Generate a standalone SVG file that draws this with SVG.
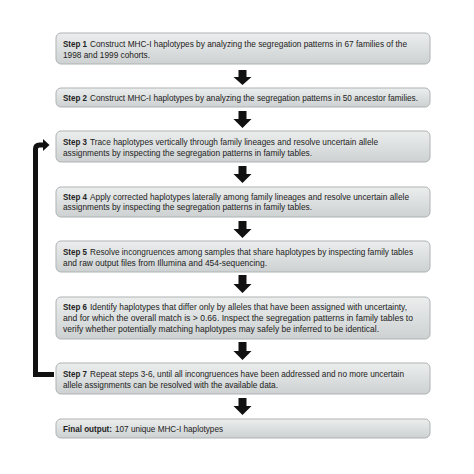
<svg xmlns="http://www.w3.org/2000/svg" width="474" height="474" viewBox="0 0 474 474">
<defs>
<linearGradient id="g" x1="0" y1="0" x2="0" y2="1">
<stop offset="0" stop-color="#eceeee"/>
<stop offset="1" stop-color="#cdd1d1"/>
</linearGradient>
<style>
.box{fill:url(#g);stroke:#aeb3b3;stroke-width:1}
text{font-family:"Liberation Sans",Arial,sans-serif;font-size:9.5px;fill:#222}
.b{font-weight:bold}
.arr{fill:#111}
</style>
</defs>
<rect width="474" height="474" fill="#fff"/>
<g id="connectors">
<path class="arr" d="M238.5 70H246.5V77H251.5L242.5 85L233.5 77H238.5Z"/>
<path class="arr" d="M238.5 111H246.5V119H251.5L242.5 128L233.5 119H238.5Z"/>
<path class="arr" d="M238.5 166H246.5V174H251.5L242.5 183L233.5 174H238.5Z"/>
<path class="arr" d="M238.5 221H246.5V229H251.5L242.5 238L233.5 229H238.5Z"/>
<path class="arr" d="M238.5 275H246.5V284H251.5L242.5 293L233.5 284H238.5Z"/>
<path class="arr" d="M238.5 342H246.5V351H251.5L242.5 360L233.5 351H238.5Z"/>
<path class="arr" d="M238.5 398H246.5V406H251.5L242.5 415L233.5 406H238.5Z"/>
<path d="M54 374.5H35.5V149Q35.5 145 39.5 145H44" fill="none" stroke="#111" stroke-width="5"/>
<path class="arr" d="M43 139L49.5 145L43 151Z"/>
</g>
<g id="step1">
<rect class="box" x="56" y="33" width="374" height="31" rx="5"/>
<text class="b" x="63" y="47" textLength="24" lengthAdjust="spacingAndGlyphs">Step 1</text>
<text x="90" y="47" textLength="317" lengthAdjust="spacingAndGlyphs">Construct MHC-I haplotypes by analyzing the segregation patterns in 67 families of the</text>
<text x="63" y="57.5" textLength="87" lengthAdjust="spacingAndGlyphs">1998 and 1999 cohorts.</text>
</g>
<g id="step2">
<rect class="box" x="56" y="88" width="374" height="19" rx="5"/>
<text class="b" x="63" y="100.5" textLength="24" lengthAdjust="spacingAndGlyphs">Step 2</text>
<text x="90" y="100.5" textLength="328" lengthAdjust="spacingAndGlyphs">Construct MHC-I haplotypes by analyzing the segregation patterns in 50 ancestor families.</text>
</g>
<g id="step3">
<rect class="box" x="56" y="131" width="374" height="31" rx="5"/>
<text class="b" x="63" y="144.5" textLength="24" lengthAdjust="spacingAndGlyphs">Step 3</text>
<text x="90" y="144.5" textLength="288" lengthAdjust="spacingAndGlyphs">Trace haplotypes vertically through family lineages and resolve uncertain allele</text>
<text x="63" y="155.5" textLength="249" lengthAdjust="spacingAndGlyphs">assignments by inspecting the segregation patterns in family tables.</text>
</g>
<g id="step4">
<rect class="box" x="56" y="187" width="374" height="30" rx="5"/>
<text class="b" x="63" y="199.5" textLength="24" lengthAdjust="spacingAndGlyphs">Step 4</text>
<text x="90" y="199.5" textLength="319" lengthAdjust="spacingAndGlyphs">Apply corrected haplotypes laterally among family lineages and resolve uncertain allele</text>
<text x="63" y="210" textLength="249" lengthAdjust="spacingAndGlyphs">assignments by inspecting the segregation patterns in family tables.</text>
</g>
<g id="step5">
<rect class="box" x="56" y="241" width="374" height="31" rx="5"/>
<text class="b" x="63" y="255" textLength="24" lengthAdjust="spacingAndGlyphs">Step 5</text>
<text x="90" y="255" textLength="323" lengthAdjust="spacingAndGlyphs">Resolve incongruences among samples that share haplotypes by inspecting family tables</text>
<text x="63" y="266" textLength="204" lengthAdjust="spacingAndGlyphs">and raw output files from Illumina and 454-sequencing.</text>
</g>
<g id="step6">
<rect class="box" x="56" y="297" width="374" height="42" rx="5"/>
<text class="b" x="63" y="310" textLength="24" lengthAdjust="spacingAndGlyphs">Step 6</text>
<text x="90" y="310" textLength="317" lengthAdjust="spacingAndGlyphs">Identify haplotypes that differ only by alleles that have been assigned with uncertainty,</text>
<text x="63" y="321" textLength="350" lengthAdjust="spacingAndGlyphs">and for which the overall match is &gt; 0.66. Inspect the segregation patterns in family tables to</text>
<text x="63" y="332" textLength="316" lengthAdjust="spacingAndGlyphs">verify whether potentially matching haplotypes may safely be inferred to be identical.</text>
</g>
<g id="step7">
<rect class="box" x="56" y="363" width="374" height="31" rx="5"/>
<text class="b" x="63" y="377" textLength="24" lengthAdjust="spacingAndGlyphs">Step 7</text>
<text x="90" y="377" textLength="314" lengthAdjust="spacingAndGlyphs">Repeat steps 3-6, until all incongruences have been addressed and no more uncertain</text>
<text x="63" y="388" textLength="215" lengthAdjust="spacingAndGlyphs">allele assignments can be resolved with the available data.</text>
</g>
<g id="final">
<rect class="box" x="56" y="419" width="374" height="19" rx="5"/>
<text class="b" x="63" y="432" font-size="8.2" textLength="49" lengthAdjust="spacingAndGlyphs" style="font-size:8.2px">Final output:</text>
<text x="115" y="432" textLength="108" lengthAdjust="spacingAndGlyphs">107 unique MHC-I haplotypes</text>
</g>
</svg>
